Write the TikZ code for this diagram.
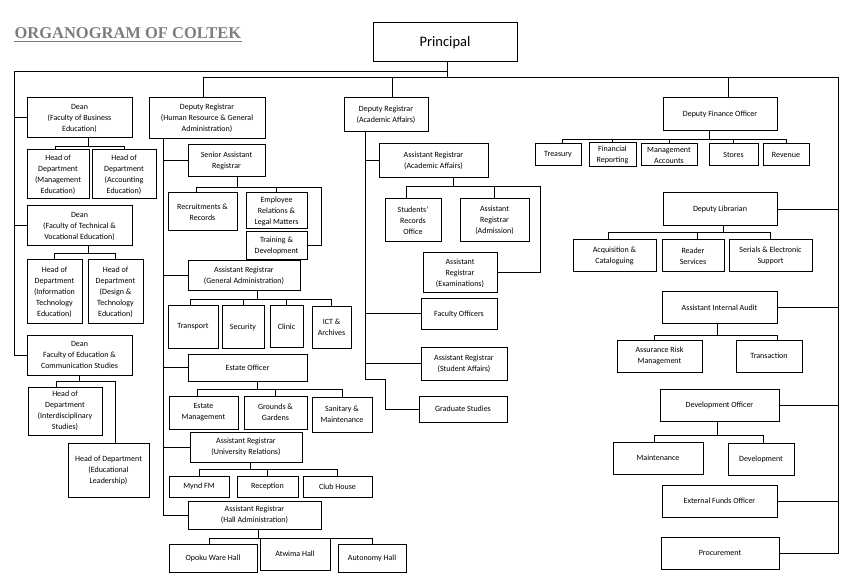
\documentclass[tikz,border=0pt]{standalone}
\usepackage{fontspec}
\setmainfont{Carlito}
\newfontfamily\titlefont{Liberation Serif}
\definecolor{titlegray}{RGB}{125,125,125}
\begin{document}
\begin{tikzpicture}[x=1pt,y=-1pt,line width=1pt,
  b/.style={draw,rectangle,inner sep=0pt,align=center,font=\fontsize{8}{11}\selectfont},
  sz/.style args={#1,#2,#3,#4}{at={(#1/2+#3/2,#2/2+#4/2)},minimum width=#3pt-#1pt,minimum height=#4pt-#2pt}]
  \useasboundingbox (0,0) rectangle (854,577);
  % title
  \node[anchor=base west,inner sep=0pt,text=titlegray,font=\titlefont\bfseries\fontsize{16.5}{16.5}\selectfont] (title) at (14,39) {ORGANOGRAM OF COLTEK};
  \draw[titlegray] ([yshift=-2.5pt]title.base west) -- ([yshift=-2.5pt]title.base east);
  \node[b,sz={373,23,517,62},font=\fontsize{14.5}{16}\selectfont] (prin) {Principal};
  % deans
  \node[b,sz={27,98,132,138}] (dbe) {Dean\\(Faculty of Business\\Education)};
  \node[b,sz={27,150,89,199}] (hme) {Head of\\Department\\(Management\\Education)};
  \node[b,sz={92,150,156,199}] (hae) {Head of\\Department\\(Accounting\\Education)};
  \node[b,sz={27,206,132,246}] (dtve) {Dean\\(Faculty of Technical \&\\Vocational Education)};
  \node[b,sz={27,260,82,324}] (hit) {Head of\\Department\\(Information\\Technology\\Education)};
  \node[b,sz={88,260,143,324}] (hdt) {Head of\\Department\\(Design \&\\Technology\\Education)};
  \node[b,sz={27,335,132,375}] (dece) {Dean\\Faculty of Education \&\\Communication Studies};
  \node[b,sz={28,387,102,435}] (hid) {Head of\\Department\\(Interdisciplinary\\Studies)};
  \node[b,sz={68,443,149,497}] (hel) {Head of Department\\(Educational\\Leadership)};
  % human resource
  \node[b,sz={149,98,265,139}] (drhr) {Deputy Registrar\\(Human Resource \& General\\Administration)};
  \node[b,sz={188,145,265,177}] (sar) {Senior Assistant\\Registrar};
  \node[b,sz={168,193,237,231}] (rec) {Recruitments \&\\Records};
  \node[b,sz={246,193,307,229}] (erl) {Employee\\Relations \&\\Legal Matters};
  \node[b,sz={246,232,307,260}] (trd) {Training \&\\Development};
  \node[b,sz={188,261,300,291}] (arga) {Assistant Registrar\\(General Administration)};
  \node[b,sz={168,306,218,348}] (trn) {Transport};
  \node[b,sz={222,306,264,348}] (sec) {Security};
  \node[b,sz={270,306,303,347}] (cln) {Clinic};
  \node[b,sz={312,307,351,348}] (ict) {ICT \&\\Archives};
  \node[b,sz={188,354,307,381}] (esto) {Estate Officer};
  \node[b,sz={169,396,238,429}] (estm) {Estate\\Management};
  \node[b,sz={244,396,307,429}] (grg) {Grounds \&\\Gardens};
  \node[b,sz={312,397,372,432}] (sanm) {Sanitary \&\\Maintenance};
  \node[b,sz={190,432,302,462}] (arur) {Assistant Registrar\\(University Relations)};
  \node[b,sz={169,476,229,497}] (myf) {Mynd FM};
  \node[b,sz={237,476,298,497}] (rcp) {Reception};
  \node[b,sz={303,476,372,497}] (clh) {Club House};
  \node[b,sz={188,501,321,529}] (arha) {Assistant Registrar\\(Hall Administration)};
  \node[b,sz={169,544,257,572}] (owh) {Opoku Ware Hall};
  \node[b,sz={260,538,330,570}] (awh) {Atwima Hall};
  \node[b,sz={338,544,406,572}] (auh) {Autonomy Hall};
  % academic affairs
  \node[b,sz={344,98,428,132}] (draa) {Deputy Registrar\\(Academic Affairs)};
  \node[b,sz={379,144,488,178}] (araa) {Assistant Registrar\\(Academic Affairs)};
  \node[b,sz={385,199,441,242}] (sro) {Students'\\Records\\Office};
  \node[b,sz={460,199,529,242}] (arad) {Assistant\\Registrar\\(Admission)};
  \node[b,sz={423,253,497,293}] (arex) {Assistant\\Registrar\\(Examinations)};
  \node[b,sz={421,299,497,329}] (fco) {Faculty Officers};
  \node[b,sz={421,347,507,380}] (arsa) {Assistant Registrar\\(Student Affairs)};
  \node[b,sz={419,396,507,422}] (grs) {Graduate Studies};
  % finance, library, audit
  \node[b,sz={663,98,777,131}] (dfo) {Deputy Finance Officer};
  \node[b,sz={535,144,581,166}] (trs) {Treasury};
  \node[b,sz={589,143,636,167}] (frp) {Financial\\Reporting};
  \node[b,sz={641,144,697,166}] (mac) {Management\\Accounts};
  \node[b,sz={709,144,758,166}] (sto) {Stores};
  \node[b,sz={763,144,809,166}] (rev) {Revenue};
  \node[b,sz={663,193,777,226}] (dlib) {Deputy Librarian};
  \node[b,sz={573,240,656,272}] (acq) {Acquisition \&\\Cataloguing};
  \node[b,sz={662,240,724,272}] (rds) {Reader\\Services};
  \node[b,sz={729,240,812,272}] (ses) {Serials \& Electronic\\Support};
  \node[b,sz={662,292,777,324}] (aia) {Assistant Internal Audit};
  \node[b,sz={617,340,702,372}] (arm) {Assurance Risk\\Management};
  \node[b,sz={736,340,802,372}] (trc) {Transaction};
  \node[b,sz={660,389,779,421}] (devo) {Development Officer};
  \node[b,sz={613,442,703,474}] (mnt) {Maintenance};
  \node[b,sz={728,443,794,475}] (dev) {Development};
  \node[b,sz={662,485,777,517}] (efo) {External Funds Officer};
  \node[b,sz={661,537,779,569}] (proc) {Procurement};
  % top lines
  \coordinate (t1) at (14,72);
  \coordinate (t2) at (838,78);
  \draw ([xshift=2pt]prin.south) -- ([xshift=2pt]prin.south |- t2);
  \draw ([xshift=2pt]prin.south |- t1) -| (t1 |- dece.west) -- (dece.west);
  \foreach \n in {dbe,dtve} \draw (\n.west) -- (\n.west -| t1);
  \draw ([xshift=-4pt]drhr.north) |- (t2) |- (proc.east);
  \draw ([xshift=6pt]draa.north) -- ([xshift=6pt]draa.north |- t2);
  \draw ([xshift=8pt]dfo.north) -- ([xshift=8pt]dfo.north |- t2);
  \foreach \n in {dlib,aia,devo,efo} \draw (\n.east) -- (\n.east -| t2);
  % deans
  \draw ([xshift=8.5pt]dbe.south) -- ++(0,8) coordinate (b1);
  \draw ([xshift=-3pt]hme.north) |- (b1) -| (hae.north);
  \draw ([xshift=8.5pt]dtve.south) -- ++(0,7) coordinate (b2);
  \draw (hit.north) |- (b2) -| (hdt.north);
  \draw (dece.south) -- ++(0,6) coordinate (b3);
  \draw ([xshift=-9pt]hid.north) |- (b3) -- ++(36,0) coordinate (b4) -- (b4 |- hel.north);
  % human resource
  \coordinate (hr) at (163,0);
  \draw (hr |- drhr.south) -- (hr |- arha.west) -- (arha.west);
  \foreach \n in {sar,arga,esto,arur} \draw (hr |- \n.west) -- (\n.west);
  \draw ([xshift=10.5pt]sar.south) -- ++(0,10) coordinate (s1);
  \draw ([xshift=-6.5pt]rec.north) |- (s1) -| (erl.north);
  \draw (erl.north |- s1) -- ++(45,0) |- (trd.east);
  \draw ([xshift=13pt]arga.south) -- ++(0,8) coordinate (g1);
  \draw ([xshift=-3pt]trn.north) |- (g1) -| (ict.north);
  \foreach \n in {sec,cln} \draw (\n.north) -- (\n.north |- g1);
  \draw ([xshift=9.5pt]esto.south) -- ++(0,8) coordinate (e1);
  \draw ([xshift=-6.5pt]estm.north) |- (e1) -| (sanm.north);
  \draw (grg.north) -- (grg.north |- e1);
  \draw ([xshift=4pt]arur.south) -- ++(0,7) coordinate (u1);
  \draw (myf.north) |- (u1) -| (clh.north);
  \draw (rcp.north) -- (rcp.north |- u1);
  \draw ([xshift=3.5pt]arha.south) -- ++(0,9) coordinate (h1);
  \draw ([xshift=-4pt]owh.north) |- (h1) -| (auh.north);
  % academic affairs
  \coordinate (aa) at (365,379);
  \draw (aa |- draa.south) -- (aa) -- ++(20,0) |- (grs.west);
  \foreach \n in {araa,fco,arsa} \draw (aa |- \n.west) -- (\n.west);
  \draw ([xshift=19.5pt]araa.south) -- ++(0,8) coordinate (a1);
  \draw ([xshift=-7pt]sro.north) |- (a1) -| (arad.north);
  \draw (arad.north |- a1) -- ++(46,0) |- (arex.east);
  % finance, library, audit
  \draw ([xshift=-11pt]dfo.south) -- ++(0,8) coordinate (f1);
  \draw ([xshift=4pt]trs.north) |- (f1) -| (rev.north);
  \foreach \n in {frp,mac,sto} \draw (\n.north) -- (\n.north |- f1);
  \draw ([xshift=3.5pt]dlib.south) -- ++(0,6) coordinate (l1);
  \draw ([xshift=-6.5pt]acq.north) |- (l1) -| (ses.north);
  \draw ([xshift=4pt]rds.north) -- ([xshift=4pt]rds.north |- l1);
  \draw ([xshift=-2.5pt]aia.south) -- ++(0,11) coordinate (i1);
  \draw ([xshift=-5.5pt]arm.north) |- (i1) -| ([xshift=8pt]trc.north);
  \draw ([xshift=-2.5pt]devo.south) -- ++(0,14) coordinate (v1);
  \draw ([xshift=-4pt]mnt.north) |- (v1) -| ([xshift=2pt]dev.north);
\end{tikzpicture}
\end{document}
